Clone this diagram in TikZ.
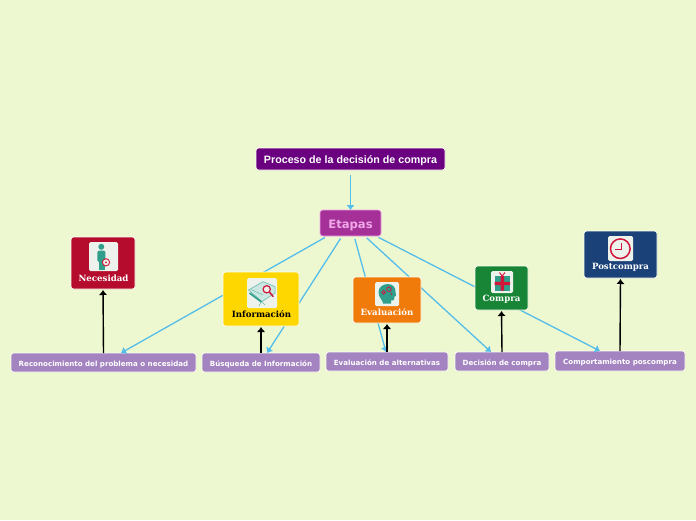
\documentclass[tikz,border=0pt]{standalone}
\usepackage{fontspec}
\usetikzlibrary{arrows.meta}
\newfontfamily\titlefont{Liberation Sans}
\newfontfamily\sansbold{DejaVu Sans}
\newfontfamily\stagefont{DejaVu Serif}
\definecolor{paper}{HTML}{EEF8D0}
\definecolor{linkblue}{HTML}{55BDEA}
\definecolor{tealicon}{HTML}{2F9E8A}
\definecolor{redicon}{HTML}{D0163A}
\definecolor{iconback}{HTML}{EEF2EC}
\definecolor{phasecolor}{HTML}{A384C0}
\definecolor{procesocolor}{HTML}{6A0080}
\definecolor{etapascolor}{HTML}{A43098}
\definecolor{etapastext}{HTML}{F0A8E8}
\definecolor{necesidadcolor}{HTML}{B50B2C}
\definecolor{informacioncolor}{HTML}{FFD700}
\definecolor{evaluacioncolor}{HTML}{F07A0A}
\definecolor{compracolor}{HTML}{178535}
\definecolor{postcompracolor}{HTML}{1A4278}
\tikzset{
  titlebox/.style={draw=white!75!paper,line width=.8pt,rounded corners=2.5pt,fill=#1,inner sep=0pt,outer sep=0pt},
  phasebox/.style={titlebox={#1},text=white,text height=7.5pt,text depth=0pt,font=\sansbold\fontsize{7.1}{8}\bfseries\selectfont},
  stagebox/.style={titlebox={#1}},
  stagetext/.style={inner sep=0pt,text=white,font=\stagefont\fontsize{8.6}{10}\bfseries\selectfont},
  iconbox/.style={fill=iconback,rounded corners=1.5pt,inner sep=0pt,minimum size=#1},
  bluelink/.style={draw=linkblue,line width=1.3pt,shorten <=3pt,-{Latex[length=5pt,width=8.5pt]}},
  blacklink/.style={draw=black,line width=1.4pt,shorten >=1pt,-{Latex[length=5pt,width=8.5pt]}}
}
\begin{document}
\begin{tikzpicture}[x=1pt,y=-1pt]
  \useasboundingbox[fill=paper] (0,0) rectangle (696,520);
  % top
  \node[titlebox=procesocolor,minimum width=189,minimum height=22,text=white,text height=8pt,text depth=0pt,font=\titlefont\fontsize{10.7}{12}\bfseries\selectfont] (proceso) at (350.5,159) {Proceso de la decisión de compra};
  \node[titlebox=etapascolor,draw=etapastext,minimum width=61,minimum height=26,text=etapastext,text height=10pt,text depth=0pt,font=\sansbold\fontsize{11.6}{13}\bfseries\selectfont] (etapas) at (350.5,223) {Etapas};
  % bottom row
  \node[phasebox=phasecolor,minimum width=185,minimum height=19] (reconocimiento) at (103.5,362.5) {Reconocimiento del problema o necesidad};
  \node[phasebox=phasecolor,minimum width=118,minimum height=19] (busqueda) at (261,362.5) {Búsqueda de Información};
  \node[phasebox=phasecolor,minimum width=122,minimum height=19] (alternativas) at (387,361.5) {Evaluación de alternativas};
  \node[phasebox=phasecolor,minimum width=94,minimum height=19] (decision) at (502,361.5) {Decisión de compra};
  \node[phasebox=phasecolor,minimum width=130,minimum height=20] (comportamiento) at (620,361) {Comportamiento poscompra};
  % blue links go under the coloured boxes
  \draw[bluelink,shorten <=5pt] (proceso) -- (etapas);
  \draw[bluelink] (etapas) -- ([xshift=17.5pt]reconocimiento.north);
  \draw[bluelink] (etapas) -- ([xshift=6pt]busqueda.north);
  \draw[bluelink] (etapas) -- ([xshift=-1pt]alternativas.north);
  \draw[bluelink] (etapas) -- ([xshift=-11pt]decision.north);
  \draw[bluelink] (etapas) -- ([xshift=-20pt]comportamiento.north);
  % stages
  \node[stagebox=necesidadcolor,minimum width=64,minimum height=52] (necesidad) at (103,263) {};
  \node[stagebox=informacioncolor,minimum width=76,minimum height=54] (informacion) at (261,299) {};
  \node[stagebox=evaluacioncolor,minimum width=68,minimum height=46] (evaluacion) at (387,300) {};
  \node[stagebox=compracolor,minimum width=53,minimum height=44] (compra) at (501.5,288) {};
  \node[stagebox=postcompracolor,minimum width=73,minimum height=47] (postcompra) at (620.5,254.5) {};
  \node[stagetext] (necesidadtext) at (103.5,278.5) {Necesidad};
  \node[stagetext,text=black] (informaciontext) at (261.5,314.5) {Información};
  \node[stagetext] (evaluaciontext) at (387,312.5) {Evaluación};
  \node[stagetext] (compratext) at (501.5,299.5) {Compra};
  \node[stagetext] (postcompratext) at (620.5,267.5) {Postcompra};
  % icons
  \node[iconbox=29] (necesidadicon) at (103.5,256.5) {};
  \fill[tealicon] (101.3,246.8) circle(3);
  \fill[tealicon,rounded corners=1.5pt] (97.3,250.5) rectangle (105.3,262);
  \fill[tealicon] (98.5,260) rectangle (104.5,269.5);
  \draw[redicon,fill=iconback,line width=.9pt] (106,262.3) circle(3.6);
  \fill[redicon] (106,262.3) circle(1);
  \node[iconbox=30] (informacionicon) at (262,293) {};
  \fill[tealicon!25!white,draw=tealicon!80!white,line width=.5pt] (248.5,290) -- (263,281.7) -- (275,286.7) -- (275,293) -- (262,301.5) -- cycle;
  \draw[tealicon,line width=1.6pt] (249.5,293) -- (261.5,302);
  \draw[tealicon!70!white,line width=.5pt] (261,302) -- (259,306) (262,302) -- (265,305) (251,289.5) -- (263,295);
  \draw[redicon,fill=iconback,line width=1.2pt] (266.7,289.3) circle(3.6);
  \draw[redicon,line width=1.5pt] (269.4,292) -- (273.3,296.7);
  \node[iconbox=24] (evaluacionicon) at (387,294) {};
  \fill[tealicon] (383,303.5) .. controls (383,300) and (378.5,298) .. (378.5,292) .. controls (378.5,287) and (383,284) .. (388,284) .. controls (393,284) and (396,288) .. (395.5,292) .. controls (395.5,294) and (396.5,295) .. (396,296) -- (394.5,296.5) .. controls (394.5,299) and (394.5,301) .. (391,300.5) -- (391,303.5) -- cycle;
  \draw[redicon,line width=.8pt] (389,289.3) circle(2.3) (383.6,292.3) circle(1.8) (391,293) -- (392,295);
  \node[iconbox=22] (compraicon) at (502,282) {};
  \fill[tealicon] (494.7,276) rectangle (510,290.7);
  \fill[redicon] (500.5,276) rectangle (504,290.7) (494.7,281.8) rectangle (510,285);
  \draw[redicon,line width=1pt] (499.5,272.5) -- (502.2,276) -- (505,272.5);
  \node[iconbox=25] (postcompraicon) at (620.5,248.5) {};
  \draw[redicon,line width=1.5pt] (620.3,248.7) circle(9.8);
  \draw[redicon,line width=.8pt] (621,243.3) -- (621,249.3) -- (615,249.3);
  % black links
  \draw[blacklink] (reconocimiento.north) -- (necesidad.south);
  \draw[blacklink] (busqueda.north) -- (informacion.south);
  \draw[blacklink] (alternativas.north) -- (evaluacion.south);
  \draw[blacklink] (decision.north) -- (compra.south);
  \draw[blacklink] (comportamiento.north) -- (postcompra.south);
\end{tikzpicture}
\end{document}
